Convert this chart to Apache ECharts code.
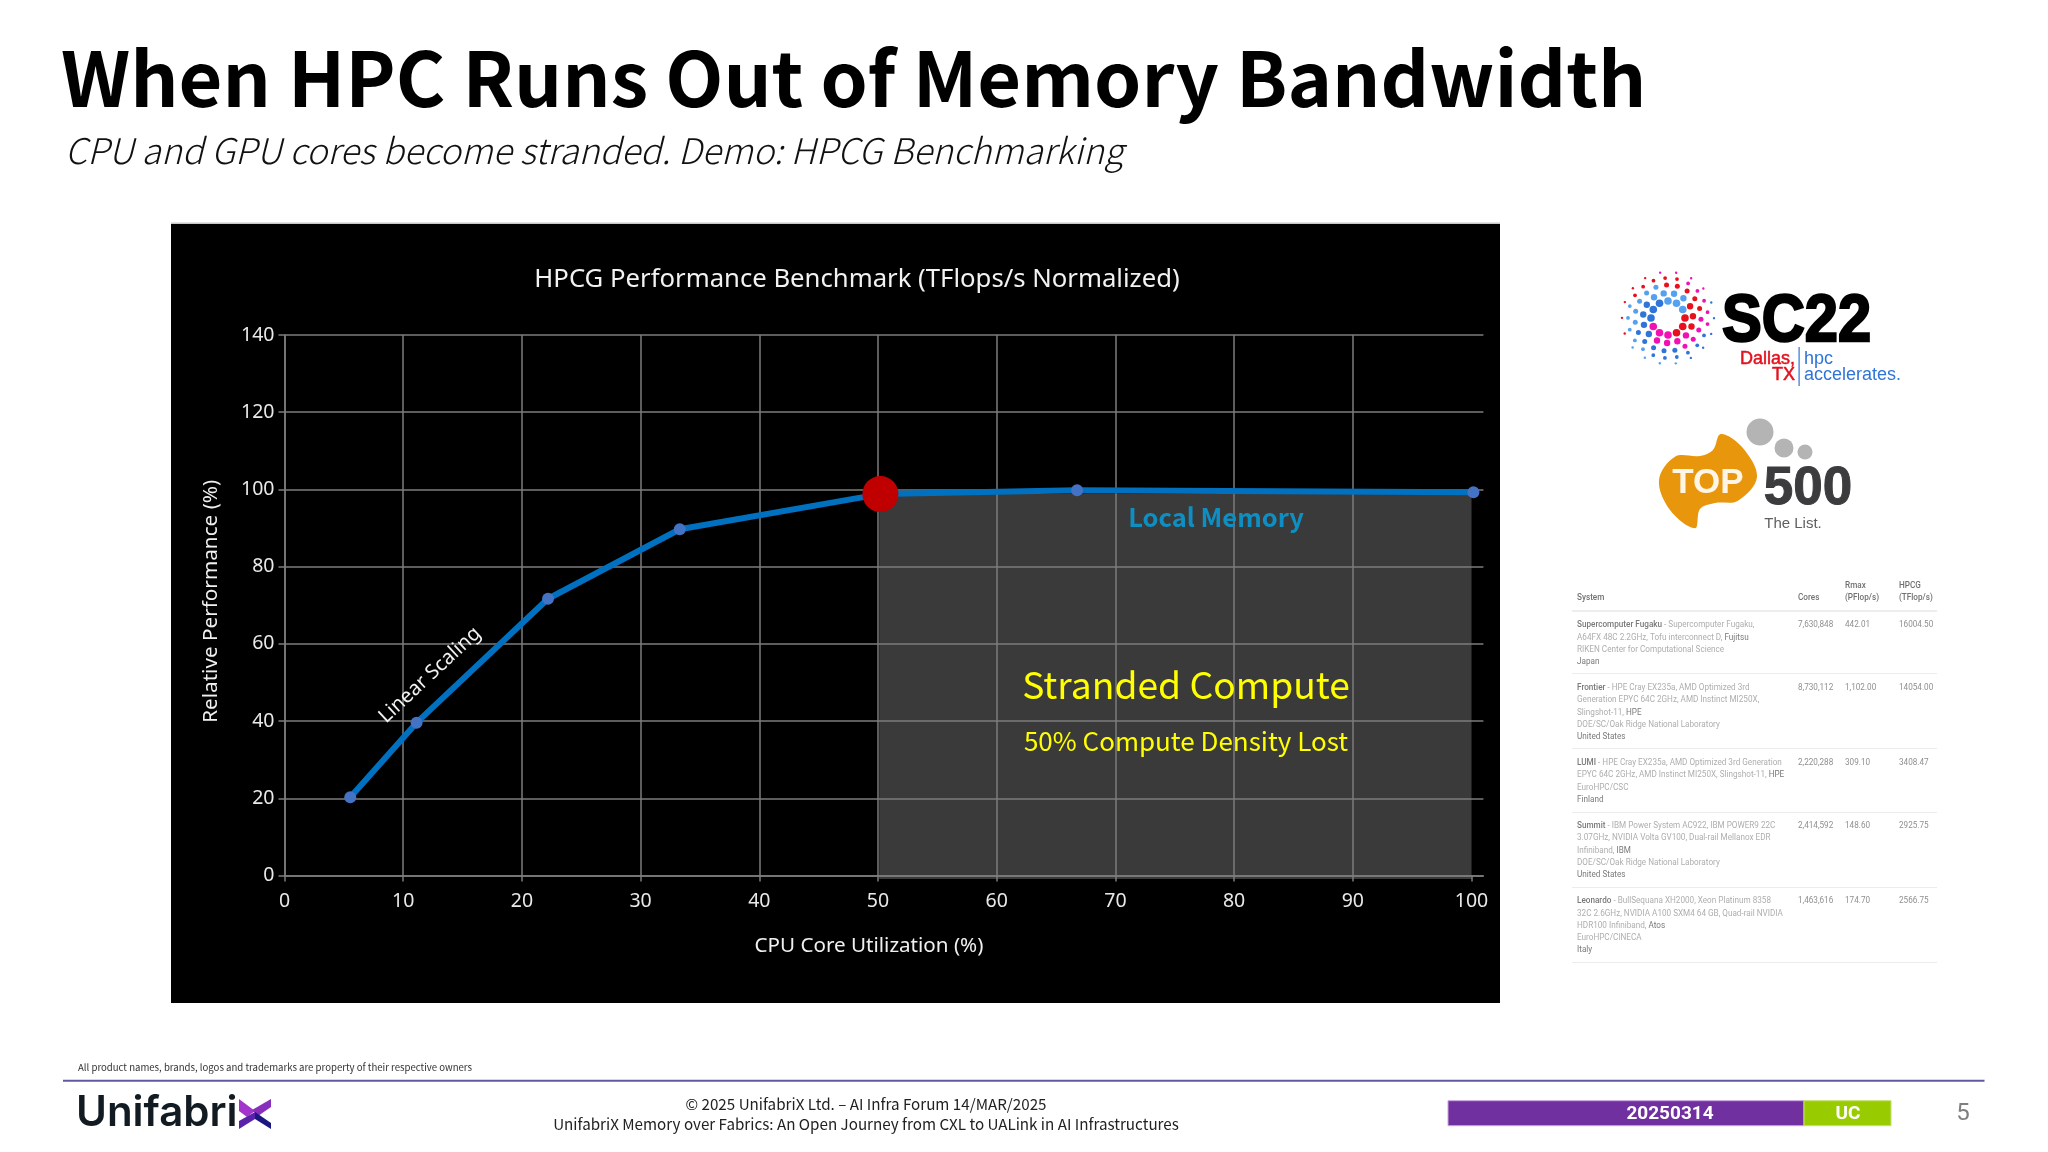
<!DOCTYPE html>
<html><head><meta charset="utf-8">
<style>html,body{margin:0;padding:0;background:#fff}#c{width:2048px;height:1152px}</style>
<script src="https://cdn.jsdelivr.net/npm/echarts@6/dist/echarts.min.js"></script>
</head><body><div id="c"></div>
<script>
// ---- chart data ----
const utilization = [5.54, 11.13, 22.2, 33.3, 50.2, 66.77, 100.16];
const performance = [20.3, 39.6, 71.7, 89.7, 98.8, 99.8, 99.3];
const kneeUtilization = [50.2];
const kneePerformance = [98.8];
const strandedFrom = [50.1, 98.8];
const strandedTo = [100, -0.9];
const xTicks = [0,10,20,30,40,50,60,70,80,90,100];

const slideTitle = 'When HPC Runs Out of Memory Bandwidth';
const slideSubtitle = 'CPU and GPU cores become stranded. Demo: HPCG Benchmarking';
const chartTitle = 'HPCG Performance Benchmark (TFlops/s Normalized)';
const xName = 'CPU Core Utilization (%)';
const yName = 'Relative Performance (%)';

// ---- TOP500 table text ----
const tableHeader = ['System','Cores','Rmax\n(PFlop/s)','HPCG\n(TFlop/s)'];
const tableRows = [
 {y:[623,636,648,660], sep:673, cores:'7,630,848', rmax:'442.01', hpcg:'16004.50', lines:[
  [['b','Supercomputer Fugaku'],['g',' - Supercomputer Fugaku,']],
  [['g','A64FX 48C 2.2GHz, Tofu interconnect D, '],['d','Fujitsu']],
  [['g','RIKEN Center for Computational Science']],
  [['d','Japan']]]},
 {y:[686,698,711,723,735], sep:748, cores:'8,730,112', rmax:'1,102.00', hpcg:'14054.00', lines:[
  [['b','Frontier'],['g',' - HPE Cray EX235a, AMD Optimized 3rd']],
  [['g','Generation EPYC 64C 2GHz, AMD Instinct MI250X,']],
  [['g','Slingshot-11, '],['d','HPE']],
  [['g','DOE/SC/Oak Ridge National Laboratory']],
  [['d','United States']]]},
 {y:[761,773,786,798], sep:812, cores:'2,220,288', rmax:'309.10', hpcg:'3408.47', lines:[
  [['b','LUMI'],['g',' - HPE Cray EX235a, AMD Optimized 3rd Generation']],
  [['g','EPYC 64C 2GHz, AMD Instinct MI250X, Slingshot-11, '],['d','HPE']],
  [['g','EuroHPC/CSC']],
  [['d','Finland']]]},
 {y:[824,836,849,861,873], sep:887, cores:'2,414,592', rmax:'148.60', hpcg:'2925.75', lines:[
  [['b','Summit'],['g',' - IBM Power System AC922, IBM POWER9 22C']],
  [['g','3.07GHz, NVIDIA Volta GV100, Dual-rail Mellanox EDR']],
  [['g','Infiniband, '],['d','IBM']],
  [['g','DOE/SC/Oak Ridge National Laboratory']],
  [['d','United States']]]},
 {y:[899,912,924,936,948], sep:962, cores:'1,463,616', rmax:'174.70', hpcg:'2566.75', lines:[
  [['b','Leonardo'],['g',' - BullSequana XH2000, Xeon Platinum 8358']],
  [['g','32C 2.6GHz, NVIDIA A100 SXM4 64 GB, Quad-rail NVIDIA']],
  [['g','HDR100 Infiniband, '],['d','Atos']],
  [['g','EuroHPC/CINECA']],
  [['d','Italy']]]}
];

const SANS = '"Noto Sans"';
const CJK = '"Noto Sans CJK JP"';
const graphics = [];
const txt = (text,x,y,o={}) => graphics.push({type:'text',x,y,rotation:o.rotation||0,scaleX:o.scaleX||1,z:o.z||20,silent:true,
  style:{text,fill:o.fill||'#000',font:`${o.fontStyle||'normal'} ${o.weight||400} ${o.size||16}px ${o.family||SANS}`,
  align:o.align||'left',verticalAlign:o.valign||'middle',lineHeight:o.lineHeight,stroke:o.stroke,lineWidth:o.lineWidth||0,rich:o.rich}});
const rect = (x,y,w,h,fill,z=1,o={}) => graphics.push({type:'rect',silent:true,z,shape:{x,y,width:w,height:h},style:Object.assign({fill},o)});
const dot = (x,y,r,fill) => graphics.push({type:'circle',silent:true,z:5,shape:{cx:x,cy:y,r},style:{fill}});
const poly = (points,fill,smooth=0) => graphics.push({type:'polygon',silent:true,z:5,shape:{points,smooth},style:{fill}});

// slide heading
txt(slideTitle,61,78,{size:75.6,weight:700,family:CJK});
txt(slideSubtitle,65,151,{size:35.4,weight:300,family:CJK,fontStyle:'italic',fill:'#111'});

// black chart panel
rect(171,224,1329,779,'#000',-100);
rect(171,222.5,1329,1.5,'#c8c8c8',-100);

// annotations inside the chart
txt('Linear Scaling',430,675,{size:20,fill:'#f2f2f2',align:'center',rotation:43*Math.PI/180});
txt('Local Memory',1216,517,{size:25.5,weight:700,family:CJK,fill:'#0e8fc4',align:'center'});
txt('Stranded Compute',1186,685,{size:37.2,family:CJK,fill:'#ffff00',align:'center'});
txt('50% Compute Density Lost',1186,741,{size:26,family:CJK,fill:'#ffff00',align:'center'});

// SC22 logo
const sc = {x:1668,y:318};
const armColors = ['#e8101c','#f010b4','#2f74d8','#56a0f0'];
const rings = [[17,3.8,12],[25,3.2,15],[33,2.5,19],[40,1.9,21],[46,1.2,18]];
rings.forEach((ring,ri)=>{
  for(let k=0;k<ring[2];k++){
    const a = 2*Math.PI*k/ring[2]+ri*0.35;
    const band = Math.floor(((a+ri*0.9)%(2*Math.PI))/(Math.PI/2))%4;
    dot(sc.x+ring[0]*Math.cos(a),sc.y+ring[0]*Math.sin(a),ring[1],armColors[band]);
  }
});
txt('SC22',1722,323,{size:67,weight:700,family:'"Liberation Sans"',scaleX:.89,stroke:'#000',lineWidth:2.5,fill:'#000'});
txt('Dallas,\nTX',1795,367,{size:18,weight:400,family:'"Liberation Sans"',fill:'#e3121e',align:'right',lineHeight:16,stroke:'#e3121e',lineWidth:.5});
rect(1798.5,347,1.2,39,'#2f74d8',5);
txt('hpc\naccelerates.',1804,367,{size:18,family:'"Liberation Sans"',fill:'#2f74d8',lineHeight:16});

// TOP500 logo
poly([[1720.7,434],[1742,447],[1757,477],[1738,500.7],[1715,503],[1700,509],[1695,528.3],[1670,510],[1659,480],[1675,456.7],[1700,456],[1713,450]],'#e8960c',0.35);
dot(1760,432,13.5,'#b4b4b4');dot(1784,448,9.5,'#b4b4b4');dot(1805,452,7.5,'#b4b4b4');
txt('TOP',1708,483,{size:35,weight:700,family:'"Liberation Sans"',fill:'#fff5e6',align:'center'});
txt('500',1808,489,{size:53,weight:700,family:'"Liberation Sans"',fill:'#3c3c3e',align:'center',stroke:'#3c3c3e',lineWidth:1});
txt('The List.',1793,524,{size:15,family:'"Liberation Sans"',fill:'#5f5f5f',align:'center'});

// TOP500 table
const TF = 'Roboto';
const TS = 9.6, TX = .85;
const tRich = {
  b:{font:`500 ${TS}px ${TF}`,fill:'#7a7a7a'},
  g:{font:`400 ${TS}px ${TF}`,fill:'#aeaeae'},
  d:{font:`400 ${TS}px ${TF}`,fill:'#7a7a7a'}
};
const tOpt = {size:TS,family:TF,scaleX:TX,fill:'#8f8f8f'};
const tHead = {size:TS,weight:500,family:TF,scaleX:TX,fill:'#707070',lineHeight:12.5};
txt(tableHeader[0],1577,598,tHead);
txt(tableHeader[1],1798,598,tHead);
txt(tableHeader[2],1845,591.5,tHead);
txt(tableHeader[3],1899,591.5,tHead);
rect(1572,610.5,365,1,'#dcdcdc',5);
tableRows.forEach(r=>{
  r.lines.forEach((ln,i)=>{
    const s = ln.map(p=>`{${p[0]}|${p[1]}}`).join('');
    txt(s,1577,r.y[i]+1.5,{rich:tRich,size:TS,family:TF,scaleX:TX});
  });
  txt(r.cores,1798,r.y[0]+1.5,tOpt);
  txt(r.rmax,1845,r.y[0]+1.5,tOpt);
  txt(r.hpcg,1899,r.y[0]+1.5,tOpt);
  rect(1572,r.sep,365,1,'#ececec',5);
});

// footer
txt('All product names, brands, logos and trademarks are property of their respective owners',78,1067,{size:9.6,family:CJK,fill:'#333'});
rect(63,1079.7,1921.5,2,'#5f5a9e',5);
txt('Unifabri',76,1113,{size:42,weight:600,family:'Inter',fill:'#121a22'});
poly([[239,1099],[255,1111],[247,1117],[239,1111]],'#a335cc');
poly([[271,1099],[271,1107],[258,1116],[252,1110]],'#8a2fbc');
poly([[239,1129],[239,1121],[255,1112],[255,1119]],'#5a22a8');
poly([[271,1129],[271,1123],[255,1112],[255,1119]],'#1c1680');
txt('© 2025 UnifabriX Ltd. – AI Infra Forum 14/MAR/2025',866,1104,{size:15.2,family:CJK,fill:'#222',align:'center'});
txt('UnifabriX Memory over Fabrics: An Open Journey from CXL to UALink in AI Infrastructures',866,1124,{size:15.2,family:CJK,fill:'#222',align:'center'});
rect(1448,1100.7,356,25,'#7030a0',5,{stroke:'#c9a6e0',lineWidth:1});
rect(1804,1100.7,87,25,'#99cc00',5,{stroke:'#c5e070',lineWidth:1});
txt('20250314',1670,1114,{size:19,weight:700,family:'Roboto',fill:'#fff',align:'center'});
txt('UC',1848,1114,{size:19,weight:700,family:'Roboto',fill:'#fff',align:'center'});
txt('5',1963,1114,{size:24,family:'Roboto',fill:'#7f7f7f',align:'center'});

const gridColor = '#7d7d7d';
const labelColor = '#e9e9e9';
const chart = echarts.init(document.getElementById('c'),null,{renderer:'canvas',width:2048,height:1152});
chart.setOption({
  animation:false,
  backgroundColor:'#fff',
  title:{text:chartTitle,left:852,top:262,textAlign:'center',textStyle:{color:'#f2f2f2',fontFamily:'Noto Sans',fontSize:25.7,fontWeight:400}},
  grid:{left:284.5,right:564.6,top:335,bottom:276.4},
  graphic:{elements:graphics},
  xAxis:{type:'value',min:0,max:101,interval:10,
    name:xName,nameLocation:'middle',nameGap:60,
    nameTextStyle:{color:'#f0f0f0',fontFamily:'Noto Sans',fontSize:20.6,padding:[0,30,0,0]},
    axisLine:{show:true,onZero:false,lineStyle:{color:gridColor,width:1.5}},
    axisTick:{show:true,length:6,customValues:xTicks,lineStyle:{color:gridColor,width:1.5}},
    axisLabel:{color:labelColor,fontFamily:'Noto Sans',fontSize:19.5,margin:16,customValues:xTicks},
    splitLine:{show:true,showMaxLine:false,lineStyle:{color:gridColor,width:1.5}}},
  yAxis:{type:'value',min:0,max:140,interval:20,
    name:yName,nameLocation:'middle',nameGap:63,
    nameTextStyle:{color:'#f0f0f0',fontFamily:'Noto Sans',fontSize:20.7,padding:[0,0,0,8]},
    axisLine:{show:true,lineStyle:{color:gridColor,width:1.5}},
    axisTick:{show:true,length:6,lineStyle:{color:gridColor,width:1.5}},
    axisLabel:{color:labelColor,fontFamily:'Noto Sans',fontSize:19.5,margin:10},
    splitLine:{show:true,lineStyle:{color:gridColor,width:1.5}}},
  series:[
    {type:'custom',name:'Stranded',z:-50,silent:true,clip:false,
     data:[[strandedFrom[0],strandedFrom[1],strandedTo[0],strandedTo[1]]],
     encode:{x:[0,2],y:[1,3]},
     renderItem:(p,api)=>{
       const a=api.coord([api.value(0),api.value(1)]),b=api.coord([api.value(2),api.value(3)]);
       return {type:'rect',shape:{x:a[0],y:a[1],width:b[0]-a[0],height:b[1]-a[1]},style:{fill:'#3a3a3a'}};
     }},
    {type:'line',name:'Local Memory',z:5,data:utilization.map((u,i)=>[u,performance[i]]),
     symbol:'circle',symbolSize:12,showAllSymbol:true,
     itemStyle:{color:'#4472c4'},lineStyle:{color:'#0070c0',width:6}},
    {type:'scatter',name:'Knee',z:6,data:kneeUtilization.map((u,i)=>[u,kneePerformance[i]]),
     symbol:'circle',symbolSize:36,itemStyle:{color:'#c00000',opacity:1}}
  ]
});
</script></body></html>
